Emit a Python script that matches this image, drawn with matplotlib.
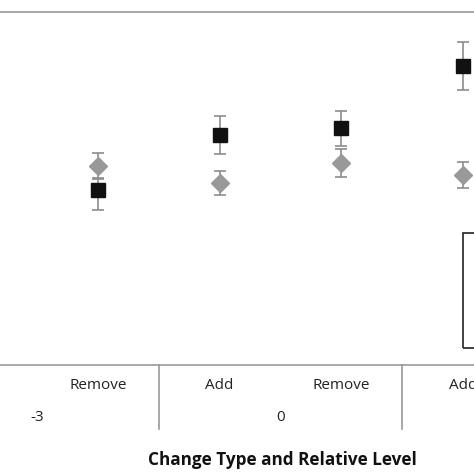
import matplotlib
matplotlib.use("Agg")
import matplotlib.pyplot as plt
from matplotlib.patches import Rectangle

plt.rcParams['font.family'] = ['Open Sans', 'DejaVu Sans']

# categories (change type) and group levels
change_types = ["Remove", "Add", "Remove", "Add"]
group_labels = ["-3", "0"]
group_centers = [-0.5, 1.5]
group_edges = [0.5, 2.5]

# series values (arbitrary units) with error bars
square_vals = [175, 230, 237, 299]
square_err_lo = [20, 19, 18, 24]
square_err_hi = [12, 19, 17, 24]
diamond_vals = [199, 182, 202, 190]
diamond_err = [13, 12, 14, 13]

fig = plt.figure(figsize=(4.74, 4.74), dpi=100)
ax = fig.add_axes([0, 109 / 474, 1, 353 / 474])
x = list(range(len(change_types)))

ax.errorbar(x, diamond_vals, yerr=diamond_err, fmt='D', color='#999999',
            ecolor='#8c8c8c', markersize=9, capsize=4, elinewidth=1.2, capthick=1.2)
ax.errorbar(x, square_vals, yerr=[square_err_lo, square_err_hi], fmt='s', color='#111111',
            ecolor='#8c8c8c', markersize=10, capsize=4, elinewidth=1.2, capthick=1.2)

ax.set_xlim(-0.805, 3.09)
ax.set_ylim(0, 353)
ax.set_xticks([])
ax.set_yticks([])
for s in ['left', 'right']:
    ax.spines[s].set_visible(False)
for s in ['top', 'bottom']:
    ax.spines[s].set_color('#999999')
    ax.spines[s].set_linewidth(1.2)

# partial legend frame at right edge
ax.add_patch(Rectangle((3.0, 17), 0.5, 115, fill=False, edgecolor='#222222', linewidth=1.2, clip_on=True))

trans = ax.get_xaxis_transform()
for xi, lab in zip(x, change_types):
    ax.text(xi, -0.057, lab, transform=trans, ha='center', va='center', fontsize=11, color='#222222')
for xc, lab in zip(group_centers, group_labels):
    ax.text(xc, -0.15, lab, transform=trans, ha='center', va='center', fontsize=11, color='#222222')
for xe in group_edges:
    ax.plot([xe, xe], [0, -0.18], transform=trans, color='#999999', linewidth=1.2, clip_on=False)

fig.text(282 / 474, 1 - 460 / 474, "Change Type and Relative Level", ha='center', va='center',
         fontsize=12.3, fontweight='bold', color='#111111')

fig.savefig("out.png", dpi=100)
